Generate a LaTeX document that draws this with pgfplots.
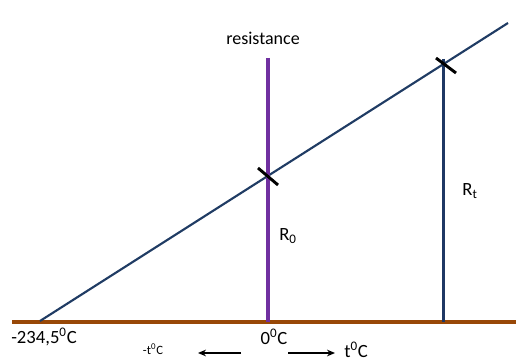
\documentclass[border=0pt]{standalone}
\usepackage{pgfplots}
\pgfplotsset{compat=1.18}
\usepackage{fontspec}
\setmainfont{Carlito}
\usetikzlibrary{arrows.meta}
\definecolor{brownline}{HTML}{984807}
\definecolor{purpline}{HTML}{7030A0}
\definecolor{navyline}{HTML}{1F3864}
\definecolor{diagline}{HTML}{203C64}
\begin{document}
\begin{tikzpicture}
\begin{axis}[
  width=392.25pt, height=272.25pt, scale only axis,
  xmin=0, xmax=523, ymin=0, ymax=363, y dir=reverse,
  hide axis, clip=false,
]
% baseline (temperature axis)
\addplot[brownline, line width=3pt] coordinates {(12,322) (516,322)};
% resistance line
\addplot[diagline, line width=1.6pt] coordinates {(40,321) (508,23)};
% resistance axis at 0 C
\addplot[purpline, line width=3pt] coordinates {(268,58) (268,322)};
% Rt vertical
\addplot[navyline, line width=2.4pt] coordinates {(443.7,59) (443.7,322)};
% tick marks
\addplot[black, line width=2.2pt] coordinates {(258,168) (278,185)};
\addplot[black, line width=2.2pt] coordinates {(436,58) (456,73)};
% arrows
\addplot[black, line width=0.9pt, -{Stealth[length=6pt,width=5pt]}] coordinates {(241,353) (198,353)};
\addplot[black, line width=0.9pt, -{Stealth[length=6pt,width=5pt]}] coordinates {(288,353) (335,353)};
% labels
\node[font=\fontsize{13.5}{16}\selectfont] at (axis cs:263,38) {resistance};
\node[font=\fontsize{14}{16}\selectfont] at (axis cs:288,236) {R\textsubscript{0}};
\node[font=\fontsize{14}{16}\selectfont] at (axis cs:470,191) {R\textsubscript{t}};
\node[font=\fontsize{14}{16}\selectfont] at (axis cs:44,337) {-234,5\textsuperscript{0}C};
\node[font=\fontsize{14}{16}\selectfont] at (axis cs:274,337) {0\textsuperscript{0}C};
\node[font=\fontsize{9.5}{12}\selectfont] at (axis cs:153,349) {-t\textsuperscript{0}C};
\node[font=\fontsize{14}{16}\selectfont] at (axis cs:356,350) {t\textsuperscript{0}C};
\end{axis}
\path[use as bounding box] (current axis.south west) rectangle (current axis.north east);
\end{tikzpicture}
\end{document}
